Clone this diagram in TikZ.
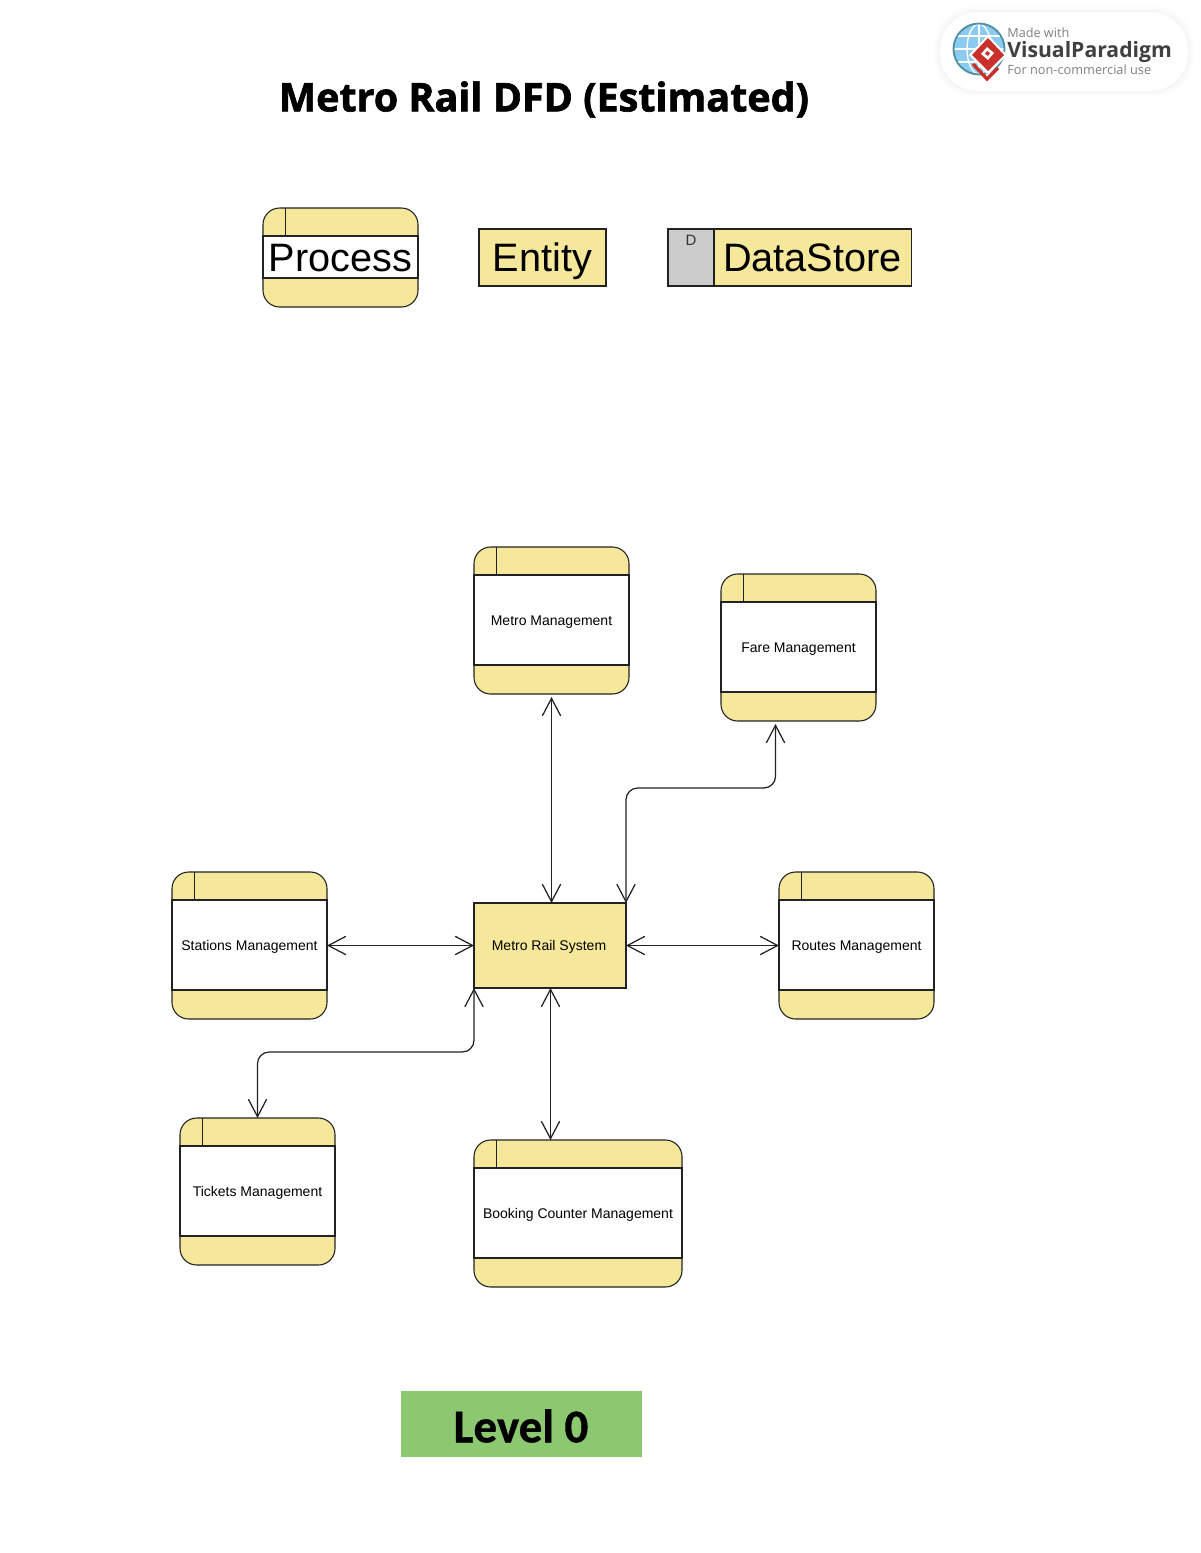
\documentclass[tikz,border=0pt]{standalone}
\usepackage{fontspec}
\setmainfont{Liberation Sans}
\newfontfamily\titlefont[BoldFeatures={FakeBold=1.6}]{Open Sans}
\newfontfamily\levelfont[BoldFeatures={FakeBold=0.8}]{Carlito}
\newfontfamily\logofont{Open Sans}
\usetikzlibrary{arrows.meta}
\definecolor{dfdyellow}{HTML}{F5E89A}
\definecolor{dfdline}{HTML}{222222}
\definecolor{dfdgreen}{HTML}{8CC86F}
\definecolor{dsgray}{HTML}{CCCCCC}
\definecolor{vpred}{HTML}{C9302C}
\definecolor{vpblue}{HTML}{8CCBF0}
\definecolor{vpring}{HTML}{4E8FA3}
\tikzset{
  x=0.6pt,y=-0.6pt,
  lineweight/.style={line width=0.65pt,draw=dfdline},
  procshape/.style={lineweight,fill=dfdyellow,rounded corners=10pt,inner sep=0pt,outer sep=0pt},
  boxshape/.style={lineweight,fill=dfdyellow,inner sep=0pt,outer sep=0pt},
  smalltxt/.style={font=\fontsize{8.4}{10}\selectfont,text=black,inner sep=0pt,anchor=base,yshift=-3pt},
  bigtxt/.style={font=\fontsize{23.8}{28}\selectfont,text=black,inner sep=0pt,anchor=base,yshift=-8.4pt},
  flow/.style={line width=0.75pt,draw=dfdline,rounded corners=7pt,
    {Straight Barb[length=10.5pt,width=11pt,line width=0.75pt]}-{Straight Barb[length=10.5pt,width=11pt,line width=0.75pt]}},
}
\newcommand\procnode[7]{% name x1 y1 x2 y2 style text
  \pgfmathsetmacro\pw{(#4-#2)*0.6}
  \pgfmathsetmacro\ph{(#5-#3)*0.6}
  \pgfmathsetmacro\pcx{(#4+#2)/2}
  \pgfmathsetmacro\pcy{(#5+#3)/2}
  \node[procshape,minimum width=\pw pt,minimum height=\ph pt] (#1) at (\pcx,\pcy) {};
  \path[lineweight,fill=white] (#2,#3+28) rectangle (#4,#5-29);
  \draw[lineweight] (#2+22.5,#3) -- (#2+22.5,#3+28);
  \node[#6] (#1-t) at (\pcx,\pcy) {#7};
}
\begin{document}
\begin{tikzpicture}
\useasboundingbox (0,0) rectangle (1200,1553);
% logo
\foreach \g/\o in {6/0.008,4/0.012,2/0.016}{
  \fill[black,opacity=\o,rounded corners=23pt] (940-\g,12-\g) rectangle (1188+\g,91+\g);
}
\fill[white,rounded corners=23pt] (940,12) rectangle (1188,91);
\fill[vpblue] (979,49) circle[radius=25];
\begin{scope}
\clip (979,49) circle[radius=25];
\draw[white,line width=0.8pt] (954,36) -- (1004,36) (954,49) -- (1004,49) (954,62) -- (1004,62)
  (979,24) -- (979,74);
\draw[white,line width=0.8pt] (979,49) ellipse[x radius=12,y radius=25];
\end{scope}
\draw[vpring,line width=1.1pt] (979,49) circle[radius=25.5];
\fill[white] (988,35) -- (1007,55) -- (988,75) -- (969,55) -- cycle;
\fill[vpred] (988,38) -- (1004,55) -- (988,71) -- (972,55) -- cycle;
\fill[white] (987,47) -- (994,53) -- (988,60) -- (981,54) -- cycle;
\fill[vpred] (987,51) -- (990,53) -- (988,56) -- (985,54) -- cycle;
\draw[vpred,line width=2pt] (973,64) -- (987,79) -- (998,68);
\node[anchor=west,inner sep=0pt,text=black!50,font=\logofont\fontsize{7.6}{9}\selectfont] (lg1) at (1007,33) {Made with};
\node[anchor=west,inner sep=0pt,text=black!75,font=\logofont\bfseries\fontsize{12.7}{15}\selectfont] (lg2) at (1007,52) {VisualParadigm};
\node[anchor=west,inner sep=0pt,text=black!50,font=\logofont\fontsize{7.65}{9}\selectfont] (lg3) at (1007,70) {For non-commercial use};
% title
\node[inner sep=0pt,font=\titlefont\bfseries\fontsize{23.7}{27}\selectfont] (title) at (544,99.5) {Metro Rail DFD (Estimated)};
% legend
\procnode{lp}{263}{208}{418}{307}{bigtxt}{Process}
\node[boxshape,minimum width=76.2pt,minimum height=34.2pt] (le) at (542.5,257.5) {};
\node[bigtxt] (le-t) at (le) {Entity};
\node[boxshape,minimum width=118.8pt,minimum height=34.2pt] (lds) at (812.5,257.5) {};
\node[bigtxt] (lds-t) at (lds) {DataStore};
\node[lineweight,fill=dsgray,minimum width=27.6pt,minimum height=34.2pt,inner sep=0pt,outer sep=0pt] (ldg) at (691,257.5) {};
\node[inner sep=0pt,font=\fontsize{9}{11}\selectfont,text=black!80] (ldd) at (691,240) {D};
% processes
\procnode{mm}{474}{547}{629}{694}{smalltxt}{Metro Management}
\procnode{fm}{721}{574}{876}{721}{smalltxt}{Fare Management}
\procnode{sm}{172}{872}{327}{1019}{smalltxt}{Stations Management}
\procnode{rm}{779}{872}{934}{1019}{smalltxt}{Routes Management}
\procnode{tm}{180}{1118}{335}{1265}{smalltxt}{Tickets Management}
\procnode{bm}{474}{1140}{682}{1287}{smalltxt}{Booking Counter Management}
\node[boxshape,minimum width=91.2pt,minimum height=51pt] (sys) at (550,945.5) {};
\node[smalltxt] (sys-t) at (549,945.5) {Metro Rail System};
% level
\node[fill=dfdgreen,minimum width=144.6pt,minimum height=39.6pt,inner sep=0pt] (lvl) at (521.5,1424) {};
\node[inner sep=0pt,font=\levelfont\bfseries\fontsize{28.2}{30}\selectfont] (lvl-t) at (521,1426) {Level 0};
% connectors
\coordinate (fmin) at ([xshift=-13.8pt,yshift=-1.8pt]fm.south);
\coordinate (b1) at (sys.north east |- 0,788);
\coordinate (b2) at (fmin |- 0,788);
\coordinate (tb1) at (sys.south west |- 0,1052);
\coordinate (tb2) at (tm.north |- 0,1052);
\coordinate (bs) at ([xshift=0.3pt]sys.south);
\draw[flow] (sys.north east) -- (b1) -- (b2) -- (fmin);
\draw[flow] (sys.south west) -- (tb1) -- (tb2) -- (tm.north);
\draw[flow] ([yshift=-1.8pt]mm.south) -- (sys.north -| mm.south);
\draw[flow] (bs) -- (bs |- bm.north);
\draw[flow] (sys.west) -- (sm.east);
\draw[flow] (sys.east) -- (rm.west);
\end{tikzpicture}
\end{document}
